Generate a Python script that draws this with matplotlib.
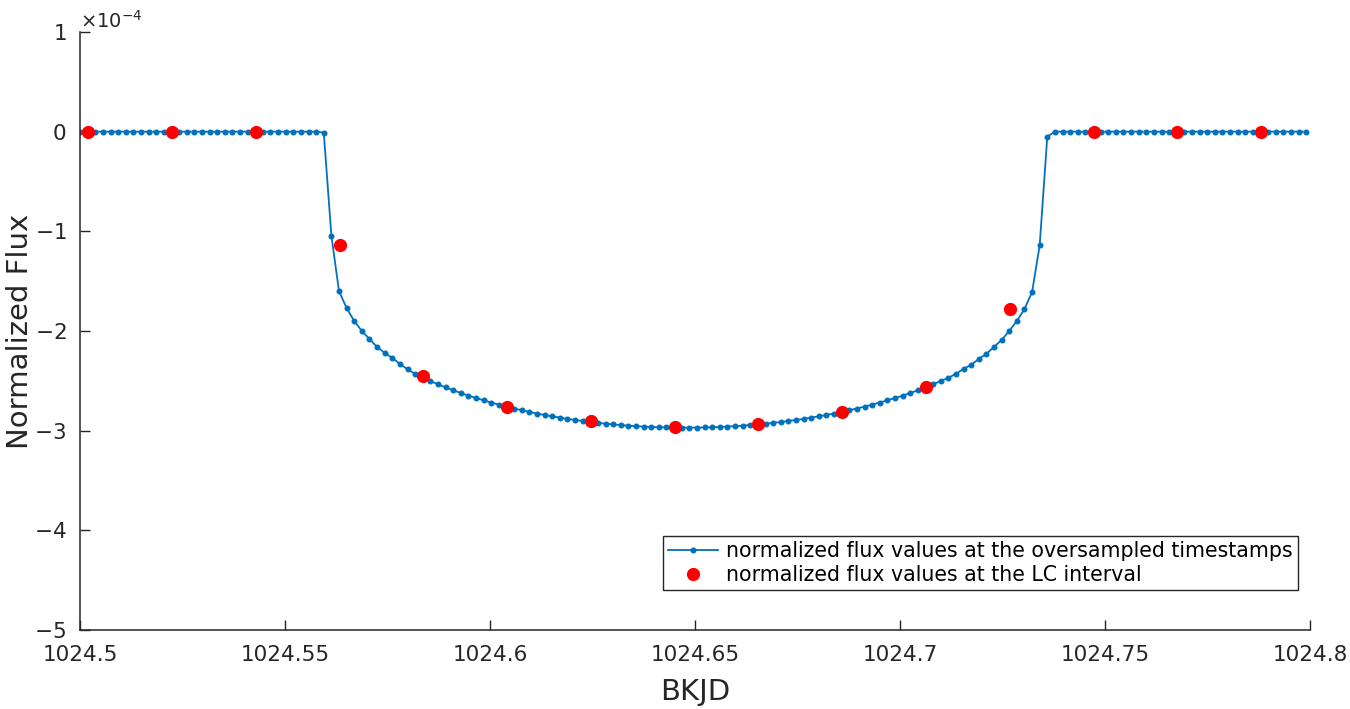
import numpy as np
import matplotlib
matplotlib.use('Agg')
import matplotlib.pyplot as plt
import matplotlib.ticker as mticker

# ── Data ───────────────────────────────────────────────────────────────────
# oversampled timestamps: regular cadence starting at 1024.5
T0 = 1024.5
OVER_STEP = 0.0018576
N_OVER = 162

# flux at the oversampled timestamps, in units of 1e-4
FLUX_OVER = [
    0, 0, 0, 0, 0, 0, 0, 0, 0, 0, 0, 0, 0, 0, 0, 0,
    0, 0, 0, 0, 0, 0, 0, 0, 0, 0, 0, 0, 0, 0, 0, 0,
    -0.01, -1.045, -1.60, -1.77, -1.90, -2.00, -2.08, -2.16, -2.22, -2.27, -2.33,
    -2.385, -2.430, -2.467, -2.502, -2.535, -2.566, -2.595, -2.622, -2.649, -2.673,
    -2.696, -2.718, -2.739, -2.759, -2.778, -2.795, -2.812, -2.828, -2.843, -2.856,
    -2.869, -2.882, -2.893, -2.903, -2.913, -2.922, -2.930, -2.937, -2.944, -2.950,
    -2.955, -2.959, -2.963, -2.966, -2.968, -2.969, -2.970,
    -2.970, -2.969, -2.968, -2.966, -2.963, -2.959, -2.955, -2.950, -2.944, -2.937,
    -2.930, -2.922, -2.913, -2.903, -2.893, -2.882, -2.869, -2.856, -2.843, -2.828,
    -2.812, -2.795, -2.778, -2.759, -2.739, -2.718, -2.696, -2.673, -2.649, -2.622,
    -2.595, -2.566, -2.535, -2.502,
    -2.47, -2.43, -2.38, -2.34, -2.28, -2.23, -2.16, -2.09, -2.00, -1.90, -1.78,
    -1.61, -1.14, -0.05,
    0, 0, 0, 0, 0, 0, 0, 0, 0, 0, 0, 0, 0, 0, 0, 0, 0,
    0, 0, 0, 0, 0, 0, 0, 0, 0, 0, 0, 0, 0, 0, 0, 0, 0,
]

# LC cadence points
LC_TIME = [1024.5020, 1024.5224, 1024.5428, 1024.5633, 1024.5837, 1024.6041,
           1024.6246, 1024.6450, 1024.6654, 1024.6859, 1024.7063, 1024.7267,
           1024.7472, 1024.7676, 1024.7880]
LC_FLUX = [0.0, 0.0, 0.0, -1.14, -2.45, -2.76, -2.90, -2.96, -2.93, -2.81,
           -2.56, -1.78, 0.0, 0.0, 0.0]

XTICKS = [1024.5, 1024.55, 1024.6, 1024.65, 1024.7, 1024.75, 1024.8]
XTICK_LABELS = ["1024.5", "1024.55", "1024.6", "1024.65", "1024.7", "1024.75", "1024.8"]
YTICKS = [-5, -4, -3, -2, -1, 0, 1]

LABEL_OVER = "normalized flux values at the oversampled timestamps"
LABEL_LC = "normalized flux values at the LC interval"

# ── Style ──────────────────────────────────────────────────────────────────
GREY = "#262626"
plt.rcParams.update({
    "font.family": "DejaVu Sans",
    "axes.spines.top": False,
    "axes.spines.right": False,
    "axes.edgecolor": GREY,
    "xtick.color": GREY,
    "ytick.color": GREY,
    "xtick.direction": "in",
    "ytick.direction": "in",
})

t_over = T0 + OVER_STEP * np.arange(N_OVER)
f_over = np.array(FLUX_OVER) * 1e-4

fig = plt.figure(figsize=(13.5, 7.09), dpi=100)
ax = fig.add_axes([0.0593, 0.1114, 0.9111, 0.8435])

ax.plot(t_over, f_over, color="#0072BD", linewidth=1.3, marker="o",
        markersize=3.3, label=LABEL_OVER)
ax.plot(LC_TIME, np.array(LC_FLUX) * 1e-4, linestyle="none", marker="o",
        markersize=9.5, color="#FF0000", markeredgewidth=0, label=LABEL_LC)

ax.set_xlim(1024.5, 1024.8)
ax.set_ylim(-5e-4, 1e-4)
ax.set_xticks(XTICKS)
ax.set_xticklabels(XTICK_LABELS)
ax.set_yticks(np.array(YTICKS) * 1e-4)
fmt = mticker.ScalarFormatter(useMathText=True)
fmt.set_powerlimits((-3, 3))
ax.yaxis.set_major_formatter(fmt)
ax.yaxis.get_offset_text().set_fontsize(14)
ax.yaxis.get_offset_text().set_color(GREY)
ax.tick_params(labelsize=15.5, length=7, width=1)
ax.tick_params(axis="x", pad=11)
ax.tick_params(axis="y", pad=10)
for s in ax.spines.values():
    s.set_linewidth(1.1)

ax.set_xlabel("BKJD", fontsize=21, color=GREY, labelpad=9)
ax.set_ylabel("Normalized Flux", fontsize=21, color=GREY)
ax.yaxis.set_label_coords(-0.0374, 0.5)

leg = ax.legend(loc="lower right", bbox_to_anchor=(0.99, 0.067), fontsize=14.8,
                fancybox=False, framealpha=1, edgecolor=GREY, borderpad=0.25,
                handlelength=2.4, handletextpad=0.4, labelspacing=0.2,
                borderaxespad=0)
leg.get_frame().set_linewidth(1.0)

fig.savefig("out.png", dpi=100)
